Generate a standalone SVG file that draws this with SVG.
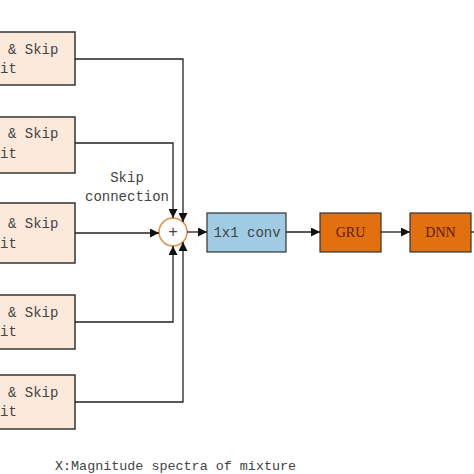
<svg xmlns="http://www.w3.org/2000/svg" width="474" height="474" viewBox="0 0 474 474">
<defs>
<marker id="ah" viewBox="0 0 10 10" refX="10" refY="5" markerWidth="9" markerHeight="9" markerUnits="userSpaceOnUse" orient="auto"><path d="M0,0 L10,5 L0,10 z" fill="#111"/></marker>
<style>
.blk{fill:#fbe9dc;stroke:#333;stroke-width:1.5}
.t{font-family:"Liberation Mono","DejaVu Sans Mono",monospace;font-size:14px;fill:#444}
.ln{fill:none;stroke:#222;stroke-width:1.3;marker-end:url(#ah)}
.or{fill:#e2700f;stroke:#333;stroke-width:1.2}
.ot{font-family:"Liberation Serif",serif;font-size:14px;fill:#5a1a00;text-anchor:middle}
</style>
</defs>
<rect width="474" height="474" fill="#fff"/>
<g id="block1"><rect class="blk" x="-2" y="32" width="77" height="53"/><text class="t" x="8" y="54">&amp; Skip</text><text class="t" x="0" y="73">it</text></g>
<g id="block2"><rect class="blk" x="-2" y="117" width="77" height="56"/><text class="t" x="8" y="138">&amp; Skip</text><text class="t" x="0" y="158">it</text></g>
<g id="block3"><rect class="blk" x="-2" y="203" width="77" height="60"/><text class="t" x="8" y="228">&amp; Skip</text><text class="t" x="0" y="248">it</text></g>
<g id="block4"><rect class="blk" x="-2" y="295" width="77" height="54"/><text class="t" x="8" y="317">&amp; Skip</text><text class="t" x="0" y="336">it</text></g>
<g id="block5"><rect class="blk" x="-2" y="375" width="77" height="54"/><text class="t" x="8" y="397">&amp; Skip</text><text class="t" x="0" y="416">it</text></g>
<g id="sum"><circle cx="173" cy="232" r="14" fill="#fff" stroke="#e0914a" stroke-width="1.5"/><text x="173" y="237" font-family="Liberation Mono, monospace" font-size="16" fill="#444" text-anchor="middle">+</text></g>
<g id="conv"><rect x="207" y="213" width="79" height="39" fill="#9fcbe3" stroke="#333" stroke-width="1.2"/><text class="t" x="247" y="237" text-anchor="middle">1x1 conv</text></g>
<g id="gru"><rect class="or" x="320" y="213" width="61" height="39"/><text class="ot" x="350.5" y="237">GRU</text></g>
<g id="dnn"><rect class="or" x="410" y="213" width="61" height="39"/><text class="ot" x="440.5" y="237">DNN</text></g>
<g id="labels">
<text class="t" x="127" y="182" text-anchor="middle">Skip</text>
<text class="t" x="127" y="201" text-anchor="middle">connection</text>
<text class="t" x="55" y="470" style="font-size:13.4px">X:Magnitude spectra of mixture</text>
</g>
<g id="connectors">
<path class="ln" d="M75,59 H183 V222"/>
<path class="ln" d="M75,143 H173 V218"/>
<path class="ln" d="M75,233 H159"/>
<path class="ln" d="M75,322 H173 V246"/>
<path class="ln" d="M75,402 H183 V242"/>
<path class="ln" d="M187,232 H207"/>
<path class="ln" d="M286,232 H320"/>
<path class="ln" d="M381,232 H410"/>
<path d="M471,232 H474" stroke="#222" stroke-width="1.3"/>
</g>
</svg>
